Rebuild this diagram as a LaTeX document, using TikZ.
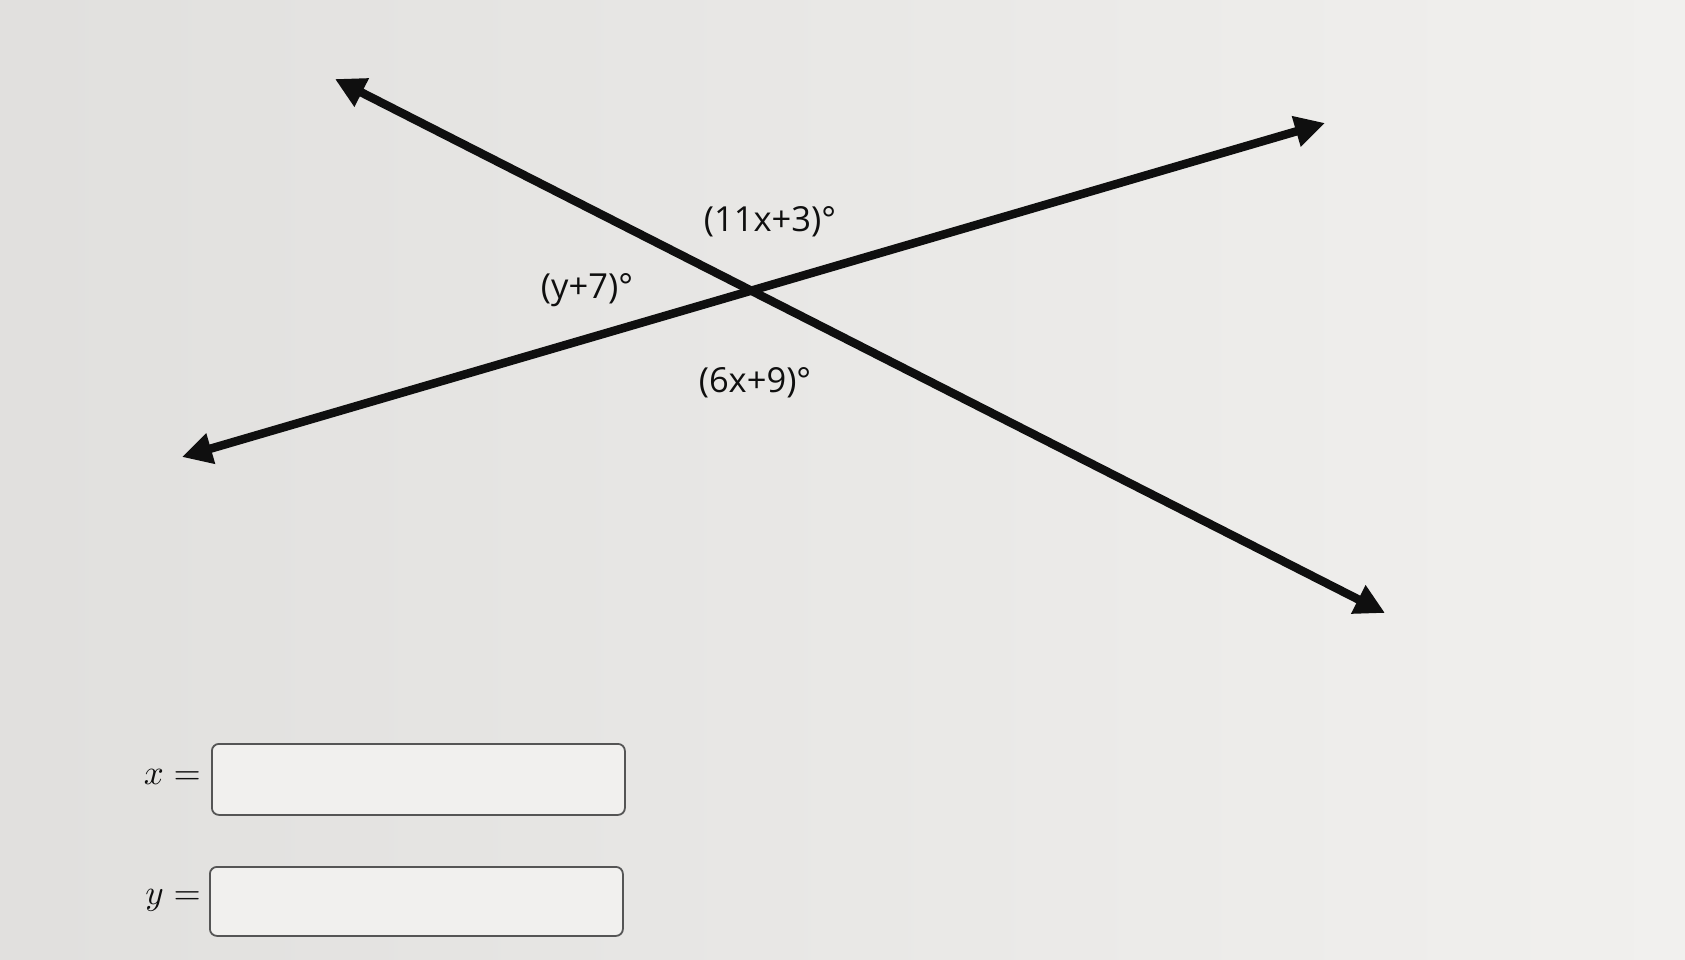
\documentclass[tikz,border=0pt]{standalone}
\usepackage{graphicx}
\usepackage{fontspec}
\newfontfamily\labelfont{Open Sans}
\usetikzlibrary{arrows.meta}
\definecolor{bg}{RGB}{234,233,231}
\definecolor{bgl}{RGB}{241,240,238}
\definecolor{boxline}{RGB}{85,85,85}
\definecolor{ink}{RGB}{15,15,15}
\tikzset{
  ray/.style={draw=ink, line width=8.5pt, {Triangle[length=30pt,width=30pt]}-{Triangle[length=30pt,width=30pt]}},
  anglabel/.style={font=\labelfont\fontsize{34.5}{40}\selectfont, text=ink, inner sep=0pt},
  answerbox/.style={draw=boxline, line width=1.8pt, rounded corners=7pt, fill=bgl},
  eqlabel/.style={text=ink, inner sep=0pt, anchor=east}
}
\begin{document}
\begin{tikzpicture}[x=1pt,y=-1pt]
  \shade[left color=bg!96!black, right color=bgl] (0,0) rectangle (1685,960);
  \useasboundingbox (0,0) rectangle (1685,960);
  % line end points
  \coordinate (A1) at (335,79);
  \coordinate (A2) at (1385,613);
  \coordinate (B1) at (182,457);
  \coordinate (B2) at (1325,123);
  \draw[ray] (A1) -- (A2);
  \draw[ray] (B1) -- (B2);
  % angle labels
  \node[anglabel] (top) at (770,222) {(11x+3)°};
  \node[anglabel] (left) at (587,290) {(y+7)°};
  \node[anglabel] (bottom) at (755,383) {(6x+9)°};
  % answer boxes
  \node[answerbox, minimum width=413pt, minimum height=71pt, anchor=north west] (bx) at (211,743) {};
  \node[answerbox, minimum width=413pt, minimum height=69pt, anchor=north west] (by) at (209,866) {};
  \node[eqlabel] (lx) at (201,777) {\scalebox{3.5}{$x=$}};
  \node[eqlabel] (ly) at (201,900) {\scalebox{3.5}{$y=$}};
\end{tikzpicture}
\end{document}
